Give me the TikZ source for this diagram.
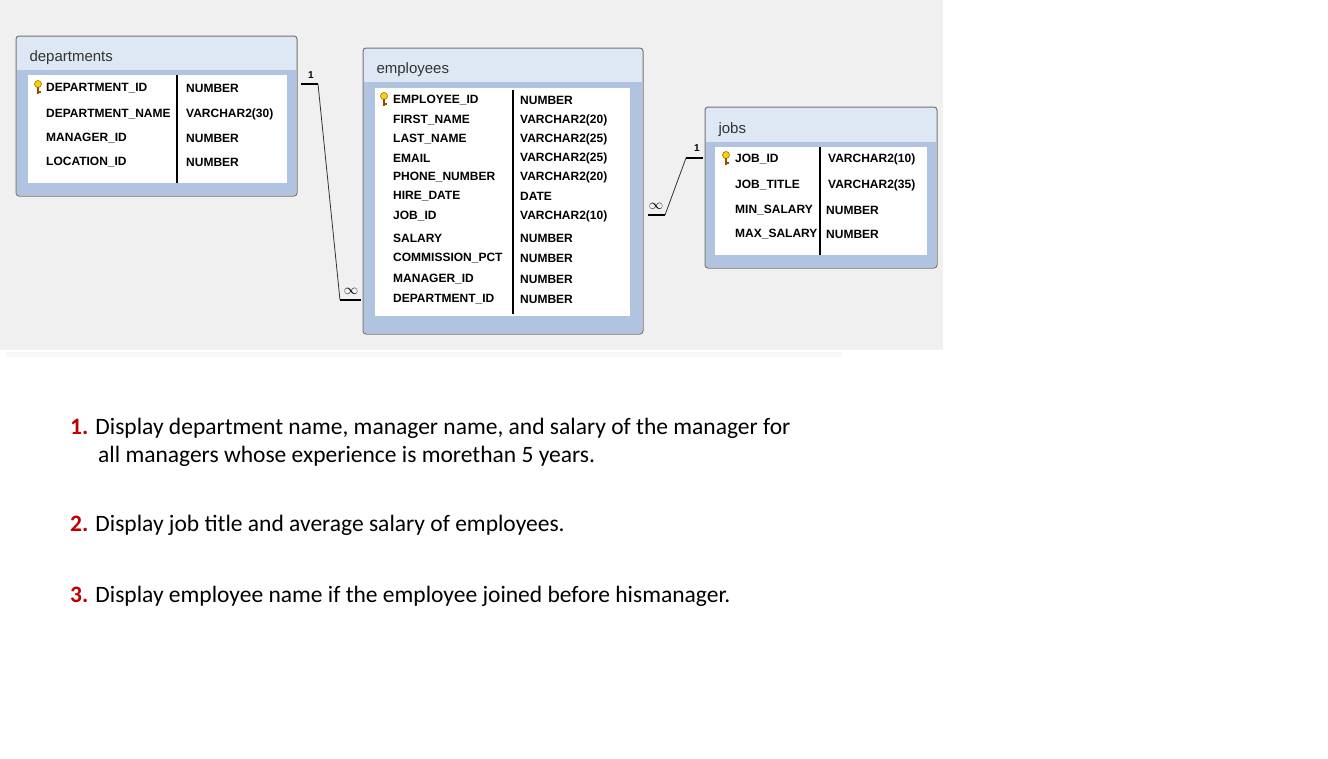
\documentclass[tikz,border=0pt]{standalone}
\usepackage{fontspec}
\setmainfont{Carlito}
\newfontfamily\tabfont{Liberation Sans}
\definecolor{frm}{RGB}{222,232,244}
\definecolor{frin}{RGB}{176,196,226}
\begin{document}
\begin{tikzpicture}[x=1pt,y=-1pt,
  frame/.style={draw=black!55,fill=frm,rounded corners=3pt,line width=1pt},
  inner/.style={fill=white,draw=none},
  ttl/.style={anchor=west,font=\tabfont\fontsize{15}{17}\selectfont,text=black!80},
  fld/.style={anchor=west,font=\tabfont\bfseries\fontsize{12}{14}\selectfont,inner sep=0pt},
  q/.style={anchor=west,font=\fontsize{23.5}{28}\selectfont,inner sep=0pt,align=left},
  rel/.style={line width=0.8pt,black!80},
  bar/.style={line width=2.6pt}]
\useasboundingbox (0,0) rectangle (1328,758);
\fill[gray!12] (0,0) rectangle (943,350);
\fill[gray!6] (6,352) rectangle (842,357);
% departments
\draw[frame] (16,36) rectangle (297,196);
\fill[frin] (17,70) rectangle (296,195);
\fill[inner] (28,75) rectangle (287,183);
\draw[line width=1.2pt] (177,75) -- (177,183);
\node[ttl] (dt) at (26,58) {departments};
\foreach \n/\t/\y in {d1/DEPARTMENT\_ID/88,d2/DEPARTMENT\_NAME/114,d3/MANAGER\_ID/138,d4/LOCATION\_ID/162}
  \node[fld] (\n) at (46,\y) {\t};
\foreach \n/\t/\y in {e1/NUMBER/88,e2/VARCHAR2(30)/114,e3/NUMBER/138,e4/NUMBER/162}
  \node[fld] (\n) at (186,\y) {\t};
% employees
\draw[frame] (363,48) rectangle (643,334);
\fill[frin] (364,82) rectangle (642,333);
\fill[inner] (375,88) rectangle (630,316);
\draw[line width=1.2pt] (513,90) -- (513,314);
\node[ttl] (et) at (373,70) {employees};
\foreach \n/\t/\y in {f1/EMPLOYEE\_ID/100,f2/FIRST\_NAME/120,f3/LAST\_NAME/139,f4/EMAIL/158,f5/PHONE\_NUMBER/177,f6/HIRE\_DATE/196,f7/JOB\_ID/216,f8/SALARY/238,f9/COMMISSION\_PCT/258,f10/MANAGER\_ID/279,f11/DEPARTMENT\_ID/299}
  \node[fld] (\n) at (393,\y) {\t};
\foreach \n/\t/\y in {g1/NUMBER/100,g2/VARCHAR2(20)/120,g3/VARCHAR2(25)/139,g4/VARCHAR2(25)/158,g5/VARCHAR2(20)/177,g6/DATE/196,g7/VARCHAR2(10)/216,g8/NUMBER/238,g9/NUMBER/258,g10/NUMBER/279,g11/NUMBER/299}
  \node[fld] (\n) at (520,\y) {\t};
% jobs
\draw[frame] (705,107) rectangle (937,268);
\fill[frin] (706,142) rectangle (936,267);
\fill[inner] (715,147) rectangle (927,255);
\draw[line width=1.2pt] (820,147) -- (820,255);
\node[ttl] (jt) at (715,130) {jobs};
\foreach \n/\t/\y in {j1/JOB\_ID/159,j2/JOB\_TITLE/185,j3/MIN\_SALARY/210,j4/MAX\_SALARY/234}
  \node[fld] (\n) at (735,\y) {\t};
\foreach \n/\t/\y in {k1/VARCHAR2(10)/159,k2/VARCHAR2(35)/185,k3/NUMBER/210,k4/NUMBER/234}
  \node[fld] (\n) at (\ifnum\y<200 828\else 826\fi,\y) {\t};
% keys
\foreach \x/\y in {38/87,384/99,726/158}{
  \draw[fill=yellow!70!orange,draw=orange!60!black,line width=0.5pt] (\x,\y-3) circle (3.5);
  \draw[orange!60!black,line width=1.3pt] (\x,\y) -- (\x,\y+7) (\x,\y+5) -- (\x+2.5,\y+5);}
% relation dept-emp
\coordinate (a1) at (301,84); \coordinate (a2) at (318,84);
\coordinate (a3) at (340,300); \coordinate (a4) at (361,300);
\draw[bar] (a1) -- (a2);
\draw[rel] (a2) -- (a3);
\draw[bar] (a3) -- (a4);
\node[font=\tabfont\bfseries\fontsize{10}{10}\selectfont,inner sep=0] (one1) at (311,75) {1};
\node[font=\fontsize{15}{15}\selectfont,inner sep=0] (inf1) at (351,291) {$\mathbf{\infty}$};
% relation emp-jobs
\coordinate (b0) at (648,215); \coordinate (b1) at (665,215);
\coordinate (b2) at (686,158); \coordinate (b3) at (703,158);
\draw[bar] (b0) -- (b1);
\node[font=\fontsize{15}{15}\selectfont,inner sep=0] (inf2) at (656,206) {$\infty$};
\draw[rel] (b1) -- (b2);
\draw[bar] (b2) -- (b3);
\node[font=\tabfont\bfseries\fontsize{10}{10}\selectfont,inner sep=0] (one2) at (697,148) {1};
% questions
\node[q] (q1) at (70,428) {{\color[RGB]{192,0,0}\bfseries 1.} Display department name, manager name, and salary of the manager for};
\node[q] (q1b) at (98,456) {all managers whose experience is morethan 5 years.};
\node[q] (q2) at (70,525) {{\color[RGB]{192,0,0}\bfseries 2.} Display job title and average salary of employees.};
\node[q] (q3) at (70,596) {{\color[RGB]{192,0,0}\bfseries 3.} Display employee name if the employee joined before hismanager.};
\end{tikzpicture}
\end{document}
